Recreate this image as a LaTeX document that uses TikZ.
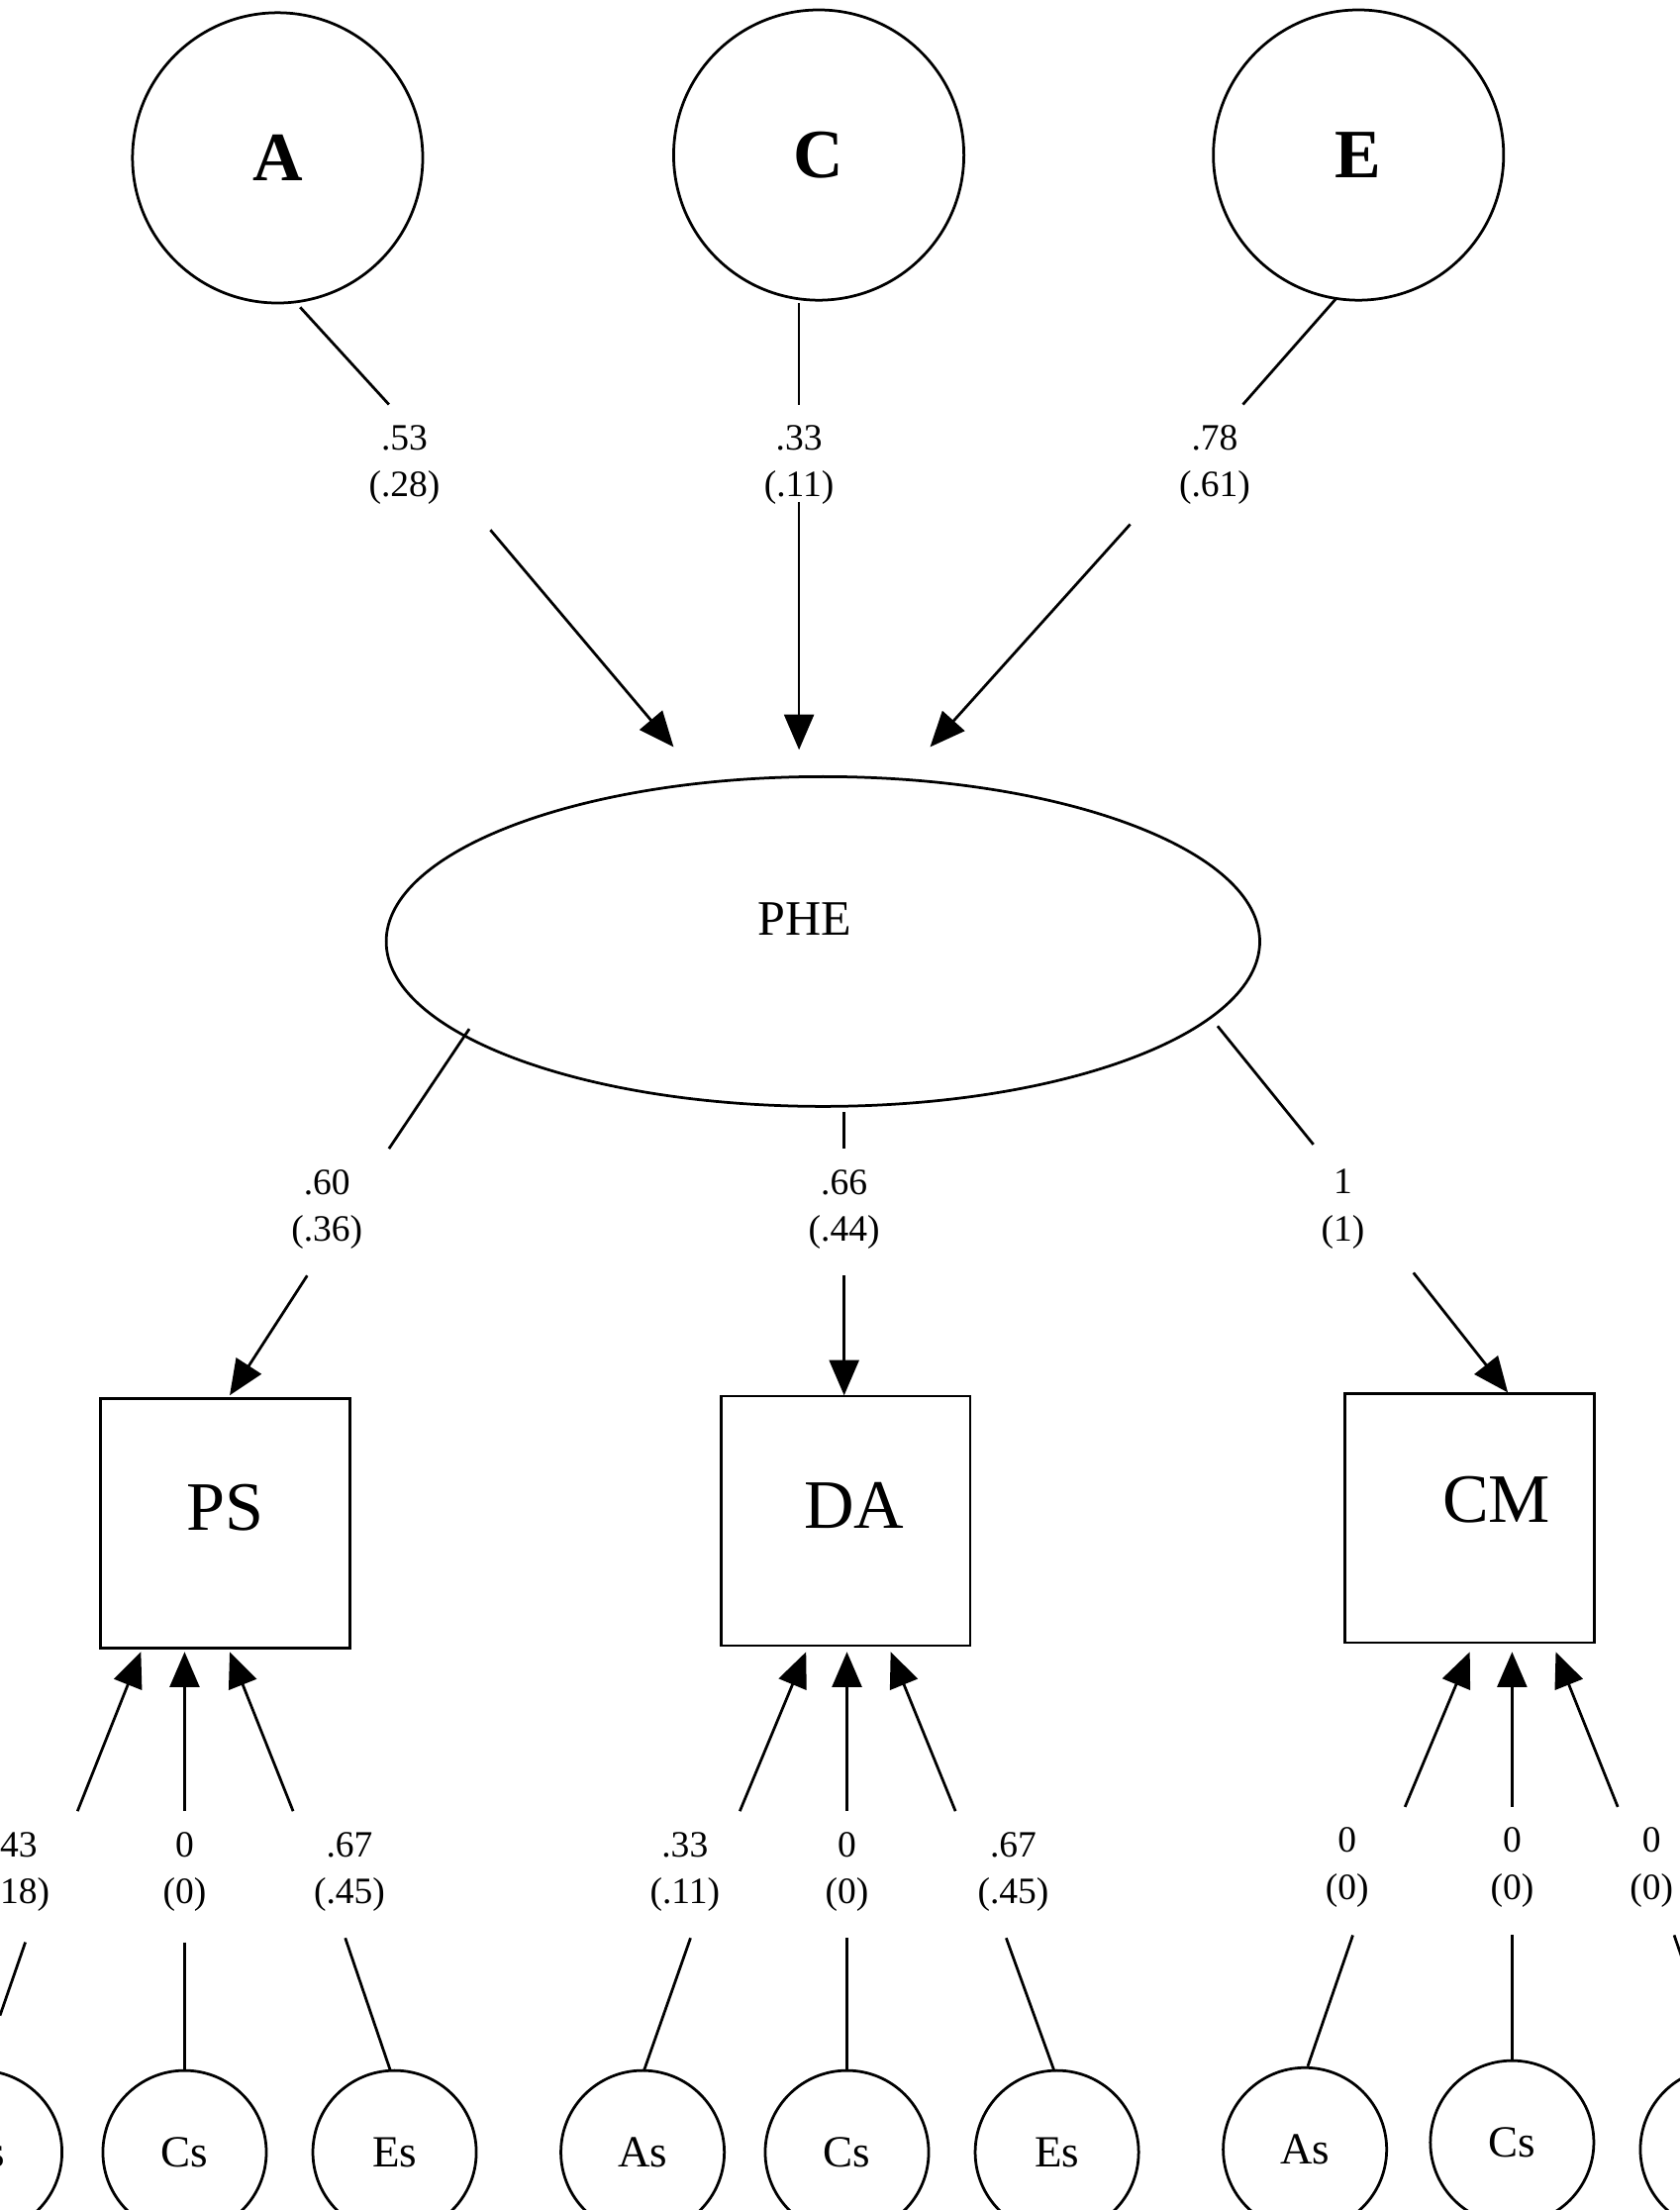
\documentclass[tikz,border=0pt]{standalone}
\usepackage{fontspec}
\setmainfont{Liberation Serif}
\usetikzlibrary{arrows.meta,shapes.geometric}
\begin{document}
\begin{tikzpicture}[x=0.02cm,y=-0.02cm,
  ln/.style={line width=1.1pt},
  ar/.style={line width=1.1pt,-{Triangle[length=0.5cm,width=0.42cm]}},
  lab/.style={font=\fontsize{15}{19}\selectfont,align=center},
  big/.style={circle,draw,line width=1.1pt,minimum size=4.12cm,font=\fontsize{28}{30}\selectfont\bfseries},
  sm/.style={circle,draw,line width=1.1pt,minimum size=2.32cm,font=\fontsize{18}{20}\selectfont},
  box/.style={draw,line width=1.1pt,minimum size=3.54cm}]
\useasboundingbox (0,0) rectangle (1192,1568);
\node[big] (A) at (197,112) {A};
\node[big] (C) at (581,110) {C};
\node[big] (E) at (964,110) {E};
\node[ellipse,draw,line width=1.1pt,minimum width=12.4cm,minimum height=4.68cm] (PHE) at (584,668) {};
\node[font=\fontsize{20}{22}\selectfont] at (571,652) {PHE};
\draw[ln] (213,218)--(276,287); \node[lab] at (287,330) {.53\\(.28)}; \draw[ar] (348,376)--(478,530);
\draw[ln] (567,215)--(567,287); \node[lab] at (567,330) {.33\\(.11)}; \draw[ar] (567,356)--(567,532);
\draw[ln] (948,212)--(882,287); \node[lab] at (862,330) {.78\\(.61)}; \draw[ar] (802,372)--(660,530);
\draw[ln] (333,730)--(276,815); \node[lab] at (232,858) {.60\\(.36)}; \draw[ar] (218,905)--(163,990);
\draw[ln] (599,789)--(599,815); \node[lab] at (599,858) {.66\\(.44)}; \draw[ar] (599,905)--(599,990);
\draw[ln] (864,728)--(932,812); \node[lab] at (953,858) {1\\(1)}; \draw[ar] (1003,903)--(1070,988);
\node[box] (PS) at (160,1081) {}; \node[font=\fontsize{28}{30}\selectfont] at (160,1070) {PS};
\node[box] (DA) at (600,1079) {}; \node[font=\fontsize{28}{30}\selectfont] at (606,1068) {DA};
\node[box] (CM) at (1043,1077) {}; \node[font=\fontsize{28}{30}\selectfont] at (1062,1064) {CM};
% PS group
\node[sm] at (-14,1527) {As}; \node[sm] at (131,1527) {Cs}; \node[sm] at (280,1527) {Es};
\draw[ar] (55,1285)--(100,1172); \node[lab] at (10,1328) {.43\\(.18)}; \draw[ln] (18,1378)--(0,1430);
\draw[ar] (131,1285)--(131,1172); \node[lab] at (131,1328) {0\\(0)}; \draw[ln] (131,1378)--(131,1469);
\draw[ar] (208,1285)--(163,1172); \node[lab] at (248,1328) {.67\\(.45)}; \draw[ln] (245,1375)--(277,1469);
% DA group
\node[sm] at (456,1527) {As}; \node[sm] at (601,1527) {Cs}; \node[sm] at (750,1527) {Es};
\draw[ar] (525,1285)--(572,1172); \node[lab] at (486,1328) {.33\\(.11)}; \draw[ln] (490,1375)--(457,1469);
\draw[ar] (601,1285)--(601,1172); \node[lab] at (601,1328) {0\\(0)}; \draw[ln] (601,1375)--(601,1469);
\draw[ar] (678,1285)--(632,1172); \node[lab] at (719,1328) {.67\\(.45)}; \draw[ln] (714,1375)--(748,1469);
% CM group
\node[sm] at (926,1525) {As}; \node[sm] at (1073,1520) {Cs}; \node[sm] at (1222,1525) {Es};
\draw[ar] (997,1282)--(1043,1172); \node[lab] at (956,1325) {0\\(0)}; \draw[ln] (960,1373)--(928,1466);
\draw[ar] (1073,1282)--(1073,1172); \node[lab] at (1073,1325) {0\\(0)}; \draw[ln] (1073,1373)--(1073,1462);
\draw[ar] (1148,1282)--(1104,1172); \node[lab] at (1172,1325) {0\\(0)}; \draw[ln] (1188,1373)--(1220,1466);
\end{tikzpicture}
\end{document}
